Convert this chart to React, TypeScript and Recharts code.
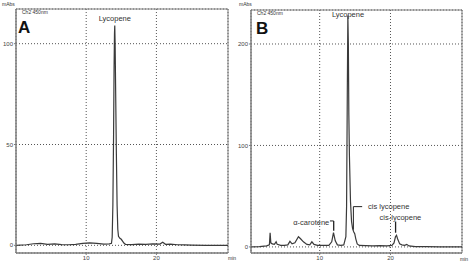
import React from 'react'
import {
  LineChart,
  Line,
  XAxis,
  YAxis,
  CartesianGrid,
  ReferenceArea,
  ReferenceDot,
  ReferenceLine,
} from 'recharts'

// retention times (min) and absorbance (mAbs)
const timesA = [
  0, 1.5, 2.5, 3.5, 4.5, 5.5, 6.5, 7.5, 8.5, 9.5, 10.5, 11.5, 12.5, 13.3, 13.6, 13.7, 13.8, 13.9,
  13.97, 14.03, 14.07, 14.12, 14.2, 14.3, 14.4, 14.5, 14.6, 14.8, 15.0, 15.2, 15.4, 15.6, 16.5,
  17.5, 18.5, 19.5, 20.5, 20.9, 21.3, 22, 23, 24, 25, 27, 30.2,
]
const valuesA = [
  0, 0.3, 0.8, 1, 0.5, 0.7, 0.4, 0.3, 0.5, 1, 1.2, 1, 0.6, 0.7, 1, 4, 20, 55,
  88, 105, 109, 100, 75, 45, 20, 8, 4.5, 3.5, 3, 2, 1, 0.5, 0.4,
  0.6, 0.5, 0.7, 0.6, 1.5, 0.5, 0.6, 0.3, 0.2, 0.1, 0, 0,
]

const timesB = [
  0.3, 1.5, 2.5, 2.9, 3.0, 3.1, 3.3, 3.6, 3.85, 4.0, 4.5, 5.0, 5.5, 5.8, 6.1, 6.5, 7.0, 7.3, 7.7,
  8.2, 8.6, 8.9, 9.2, 9.7, 10.5, 11.3, 11.7, 11.95, 12.2, 12.5, 13.0, 13.4, 13.7, 13.8, 13.9,
  13.98, 14.05, 14.12, 14.2, 14.35, 14.5, 14.65, 14.8, 14.95, 15.1, 15.3, 15.6, 16.5, 17.5, 18.5,
  19.5, 20.2, 20.5, 20.7, 20.85, 21.0, 21.3, 21.6, 22.0, 22.3, 22.6, 23.5, 25, 27, 30.1,
]
const valuesB = [
  0, 0.3, 1, 2, 14, 4, 3, 2.5, 5, 2.5, 1.5, 1.5, 2, 5.5, 3, 4, 10, 8, 5,
  2.5, 2, 5, 2.5, 1.5, 1.5, 1.5, 5, 14, 6, 2, 1.5, 2, 10, 40, 150,
  228, 200, 130, 90, 45, 25, 18, 15, 13, 8, 3, 1.5, 1.2, 1, 1.2,
  1, 1.5, 4, 10, 11.5, 8, 3, 2, 1.5, 2.5, 1, 0.3, 0.2, 0, 0,
]

const xTicks = [10, 20]
const yTicksA = [0, 50, 100]
const yTicksB = [0, 100, 200]

const dataA = timesA.map((t, i) => ({ t, v: valuesA[i] }))
const dataB = timesB.map((t, i) => ({ t, v: valuesB[i] }))

const FONT = '"Liberation Sans", Arial, sans-serif'
const TRACE = '#3a3a3a'
const FRAME = '#7d7d7d'
const GRID = '#555'
const tickStyle = { fill: '#444', fontSize: 6, fontFamily: FONT }

const peakLabel = (value: string, position: any = 'center') => ({
  value,
  position,
  offset: 0,
  fill: '#333',
  fontSize: 7.5,
  fontFamily: FONT,
})

function Panel({
  data,
  xDomain,
  yDomain,
  yTicks,
  yWidth,
  margin,
  children,
}: {
  data: { t: number; v: number }[]
  xDomain: [number, number]
  yDomain: [number, number]
  yTicks: number[]
  yWidth: number
  margin: { top: number; right: number; bottom: number; left: number }
  children?: React.ReactNode
}) {
  return (
    <LineChart width={237} height={267} data={data} margin={margin}>
      <CartesianGrid stroke={GRID} strokeDasharray="1 2" />
      <XAxis
        dataKey="t"
        type="number"
        domain={xDomain}
        ticks={xTicks}
        allowDataOverflow
        height={14}
        tickSize={2}
        tickMargin={1}
        tick={tickStyle}
        axisLine={{ stroke: FRAME }}
        tickLine={{ stroke: FRAME }}
      />
      <YAxis
        type="number"
        domain={yDomain}
        ticks={yTicks}
        allowDataOverflow
        width={yWidth}
        tickSize={2}
        tickMargin={1}
        tick={tickStyle}
        axisLine={{ stroke: FRAME }}
        tickLine={{ stroke: FRAME }}
      />
      <ReferenceArea
        x1={xDomain[0]}
        x2={xDomain[1]}
        y1={yDomain[0]}
        y2={yDomain[1]}
        fill="none"
        stroke={FRAME}
        strokeWidth={1}
      />
      <Line
        dataKey="v"
        type="linear"
        stroke={TRACE}
        strokeWidth={1.2}
        dot={false}
        isAnimationActive={false}
      />
      {children}
    </LineChart>
  )
}

function Overlay() {
  const small = { fontSize: 5, fill: '#333', fontFamily: FONT }
  return (
    <svg
      width={474}
      height={267}
      style={{ position: 'absolute', left: 0, top: 0, pointerEvents: 'none' }}
    >
      <text x={2} y={6} {...small}>mAbs</text>
      <text x={22} y={14} {...small}>Ch2 450nm</text>
      <text x={18} y={33} fontSize={17} fontWeight="bold" fontFamily={FONT} fill="#111">A</text>
      <text x={228} y={260} {...small}>min</text>

      <text x={239} y={6} {...small}>mAbs</text>
      <text x={257} y={15} {...small}>Ch2 450nm</text>
      <text x={256} y={34} fontSize={17} fontWeight="bold" fontFamily={FONT} fill="#111">B</text>
      <text x={460} y={261} {...small}>min</text>
    </svg>
  )
}

export default function App() {
  return (
    <div
      style={{
        position: 'absolute',
        left: 0,
        top: 0,
        width: 474,
        height: 267,
        background: '#fff',
        fontFamily: FONT,
      }}
    >
      <div style={{ position: 'absolute', left: 0, top: 0 }}>
        <Panel
          data={dataA}
          xDomain={[0, 30.2]}
          yDomain={[-3.8, 117.2]}
          yTicks={yTicksA}
          yWidth={16}
          margin={{ top: 9, right: 9, bottom: 0, left: 0 }}
        >
          <ReferenceDot x={14.07} y={112.5} r={0} label={peakLabel('Lycopene')} />
        </Panel>
      </div>
      <div style={{ position: 'absolute', left: 237, top: 0 }}>
        <Panel
          data={dataB}
          xDomain={[0.3, 30.1]}
          yDomain={[-6, 233.5]}
          yTicks={yTicksB}
          yWidth={14}
          margin={{ top: 10, right: 12, bottom: 0, left: 0 }}
        >
          <ReferenceDot x={14.0} y={229} r={0} label={peakLabel('Lycopene')} />
          {/* α-carotene */}
          <ReferenceLine segment={[{ x: 11.45, y: 25.6 }, { x: 11.98, y: 25.6 }]} stroke="#222" />
          <ReferenceLine segment={[{ x: 11.98, y: 25.6 }, { x: 11.98, y: 16 }]} stroke="#222" strokeWidth={1.3} />
          <ReferenceDot x={11.35} y={24} r={0} label={peakLabel('α-carotene', 'left')} />
          {/* cis lycopene shoulder */}
          <ReferenceLine segment={[{ x: 14.76, y: 39.7 }, { x: 16.0, y: 39.7 }]} stroke="#222" />
          <ReferenceLine segment={[{ x: 14.76, y: 39.7 }, { x: 14.76, y: 17 }]} stroke="#222" />
          <ReferenceDot x={16.84} y={39.7} r={0} label={peakLabel('cis lycopene', 'right')} />
          {/* cis-lycopene */}
          <ReferenceLine segment={[{ x: 20.72, y: 25 }, { x: 20.72, y: 14 }]} stroke="#222" strokeWidth={1.3} />
          <ReferenceDot x={21.4} y={28.8} r={0} label={peakLabel('cis-lycopene')} />
        </Panel>
      </div>
      <Overlay />
    </div>
  )
}
